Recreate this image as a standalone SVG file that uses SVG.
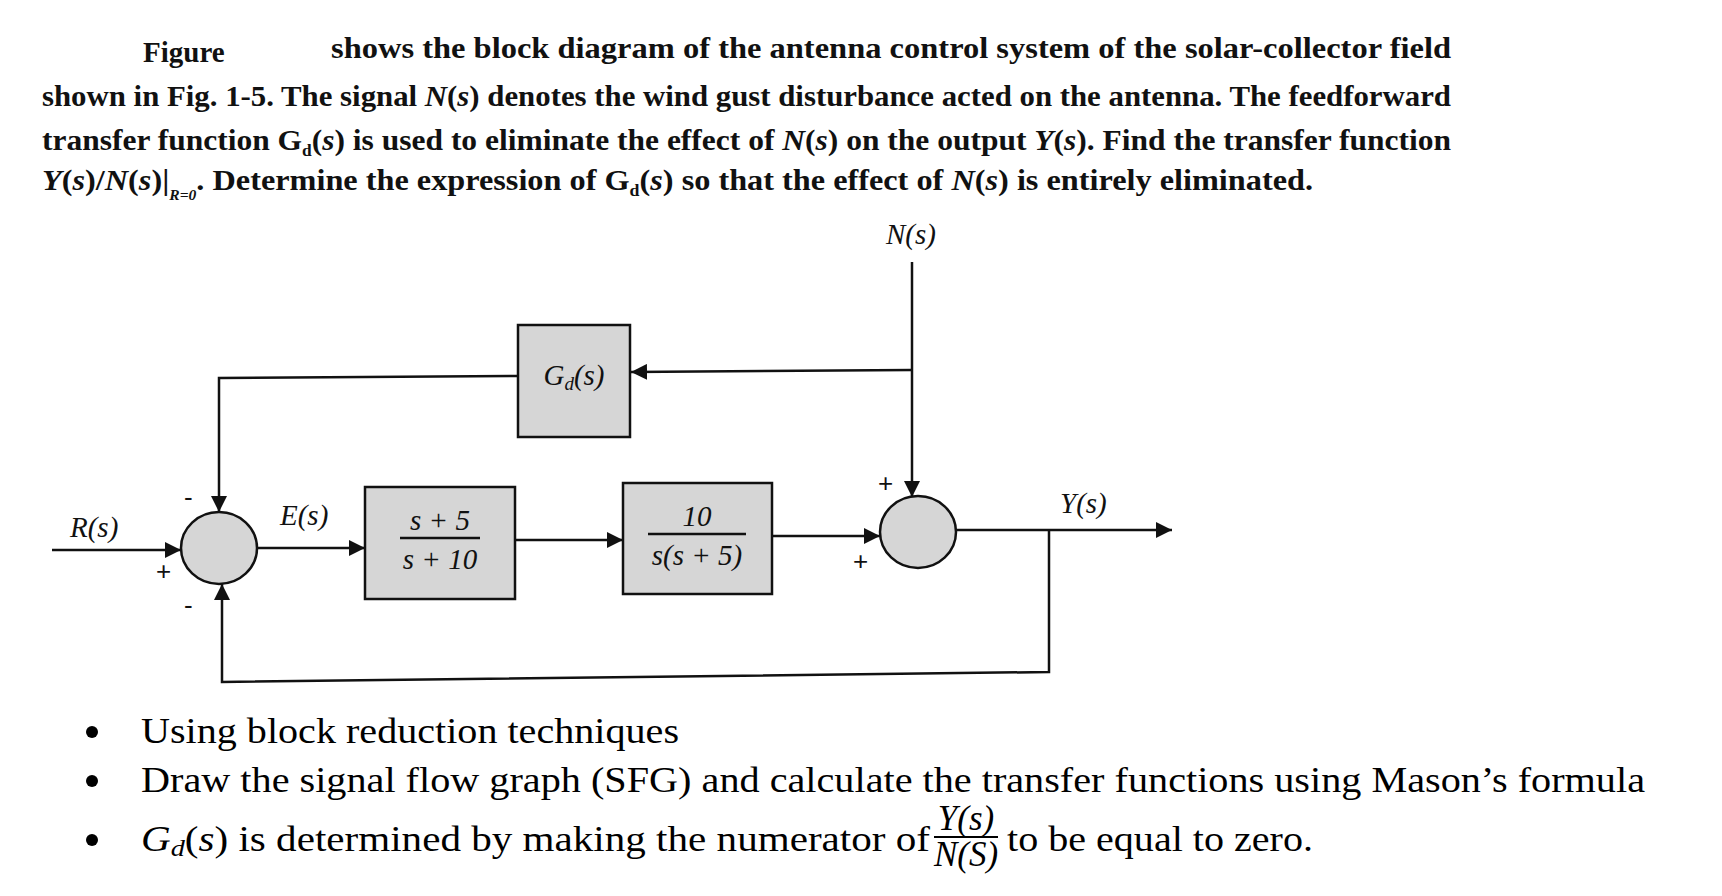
<svg xmlns="http://www.w3.org/2000/svg" width="1722" height="896" viewBox="0 0 1722 896">
<style>
.h{font-family:"Liberation Serif",serif;font-size:29px;font-weight:bold;fill:#111}
.l{font-family:"Liberation Serif",serif;font-style:italic;font-size:29px;fill:#111}
.b{font-family:"Liberation Serif",serif;font-size:35px;fill:#000}
.blk{fill:#d6d6d6;stroke:#111;stroke-width:2.5}
.w{stroke:#111;stroke-width:2.5;fill:none}
.sg{font-family:"Liberation Sans",sans-serif;font-size:26px;fill:#111}
</style>
<defs>
<marker id="m" viewBox="0 0 10 10" markerWidth="16" markerHeight="16" refX="10" refY="5" orient="auto" markerUnits="userSpaceOnUse"><path d="M0,0 L10,5 L0,10 z" fill="#111"/></marker></defs>
<rect width="1722" height="896" fill="#fff"/>
<g id="header">
<text class="h" x="143" y="62">Figure</text>
<text class="h" x="331" y="58" textLength="1120" lengthAdjust="spacingAndGlyphs">shows the block diagram of the antenna control system of the solar-collector field</text>
<text class="h" x="42" y="106" textLength="1409" lengthAdjust="spacingAndGlyphs">shown in Fig. 1-5. The signal <tspan font-style="italic">N</tspan>(<tspan font-style="italic">s</tspan>) denotes the wind gust disturbance acted on the antenna. The feedforward</text>
<text class="h" x="42" y="150" textLength="1409" lengthAdjust="spacingAndGlyphs">transfer function G<tspan font-size="16" dy="6">d</tspan><tspan dy="-6">(</tspan><tspan font-style="italic">s</tspan>) is used to eliminate the effect of <tspan font-style="italic">N</tspan>(<tspan font-style="italic">s</tspan>) on the output <tspan font-style="italic">Y</tspan>(<tspan font-style="italic">s</tspan>). Find the transfer function</text>
<text class="h" x="42" y="190" textLength="1271" lengthAdjust="spacingAndGlyphs"><tspan font-style="italic">Y</tspan>(<tspan font-style="italic">s</tspan>)/<tspan font-style="italic">N</tspan>(<tspan font-style="italic">s</tspan>)|<tspan font-size="14" dy="10" font-style="italic">R=0</tspan><tspan dy="-10">. Determine the expression of G</tspan><tspan font-size="16" dy="6">d</tspan><tspan dy="-6">(</tspan><tspan font-style="italic">s</tspan>) so that the effect of <tspan font-style="italic">N</tspan>(<tspan font-style="italic">s</tspan>) is entirely eliminated.</text>
</g>
<g id="connectors">
<line class="w" x1="52" y1="550" x2="181" y2="550" marker-end="url(#m)"/>
<line class="w" x1="257" y1="548" x2="365" y2="548" marker-end="url(#m)"/>
<line class="w" x1="515" y1="540" x2="623" y2="540" marker-end="url(#m)"/>
<line class="w" x1="772" y1="536" x2="880" y2="536" marker-end="url(#m)"/>
<line class="w" x1="956" y1="530" x2="1172" y2="530" marker-end="url(#m)"/>
<polyline class="w" points="912,262 912,497" marker-end="url(#m)"/>
<line class="w" x1="912" y1="370" x2="631" y2="372" marker-end="url(#m)"/>
<polyline class="w" points="518,376 219,378 219,512" marker-end="url(#m)"/>
<polyline class="w" points="1049,530 1049,672 222,682 222,584" marker-end="url(#m)"/>
</g>
<g id="sum1"><ellipse cx="219" cy="548" rx="38" ry="36" class="blk"/>
<text class="sg" x="184" y="506">-</text><text class="sg" x="156" y="580">+</text><text class="sg" x="184" y="614">-</text></g>
<g id="sum2"><ellipse cx="918" cy="532" rx="38" ry="36" class="blk"/>
<text class="sg" x="878" y="492">+</text><text class="sg" x="853" y="570">+</text></g>
<g id="gd"><rect class="blk" x="518" y="325" width="112" height="112"/>
<text class="l" x="574" y="385" text-anchor="middle">G<tspan font-size="19" dy="5">d</tspan><tspan dy="-5">(s)</tspan></text></g>
<g id="g1"><rect class="blk" x="365" y="487" width="150" height="112"/>
<text class="l" x="440" y="530" text-anchor="middle">s + 5</text><line class="w" x1="400" y1="538" x2="480" y2="538" stroke-width="2"/><text class="l" x="440" y="569" text-anchor="middle">s + 10</text></g>
<g id="g2"><rect class="blk" x="623" y="483" width="149" height="111"/>
<text class="l" x="697" y="526" text-anchor="middle" font-style="normal">10</text><line class="w" x1="648" y1="534" x2="746" y2="534" stroke-width="2"/><text class="l" x="697" y="565" text-anchor="middle">s(s + 5)</text></g>
<g id="labels">
<text class="l" x="70" y="537">R(s)</text><text class="l" x="280" y="525">E(s)</text>
<text class="l" x="886" y="244">N(s)</text><text class="l" x="1060" y="513">Y(s)</text>
</g>
<g id="bullets">
<circle cx="92" cy="732" r="6" fill="#000"/><circle cx="92" cy="781" r="6" fill="#000"/><circle cx="92" cy="840" r="6" fill="#000"/>
<text class="b" x="141" y="743" textLength="538" lengthAdjust="spacingAndGlyphs">Using block reduction techniques</text>
<text class="b" x="141" y="792" textLength="1504" lengthAdjust="spacingAndGlyphs">Draw the signal flow graph (SFG) and calculate the transfer functions using Mason’s formula</text>
<text class="b" x="141" y="851" textLength="789" lengthAdjust="spacingAndGlyphs"><tspan font-style="italic">G</tspan><tspan font-style="italic" font-size="24" dy="5">d</tspan><tspan dy="-5">(</tspan><tspan font-style="italic">s</tspan>) is determined by making the numerator of</text>
<text class="b" x="966" y="830" text-anchor="middle" font-size="22" font-style="italic">Y(s)</text>
<line x1="934" y1="837" x2="998" y2="837" stroke="#000" stroke-width="2"/>
<text class="b" x="966" y="866" text-anchor="middle" font-size="22" font-style="italic">N(S)</text>
<text class="b" x="1007" y="851" textLength="306" lengthAdjust="spacingAndGlyphs">to be equal to zero.</text>
</g>
</svg>
